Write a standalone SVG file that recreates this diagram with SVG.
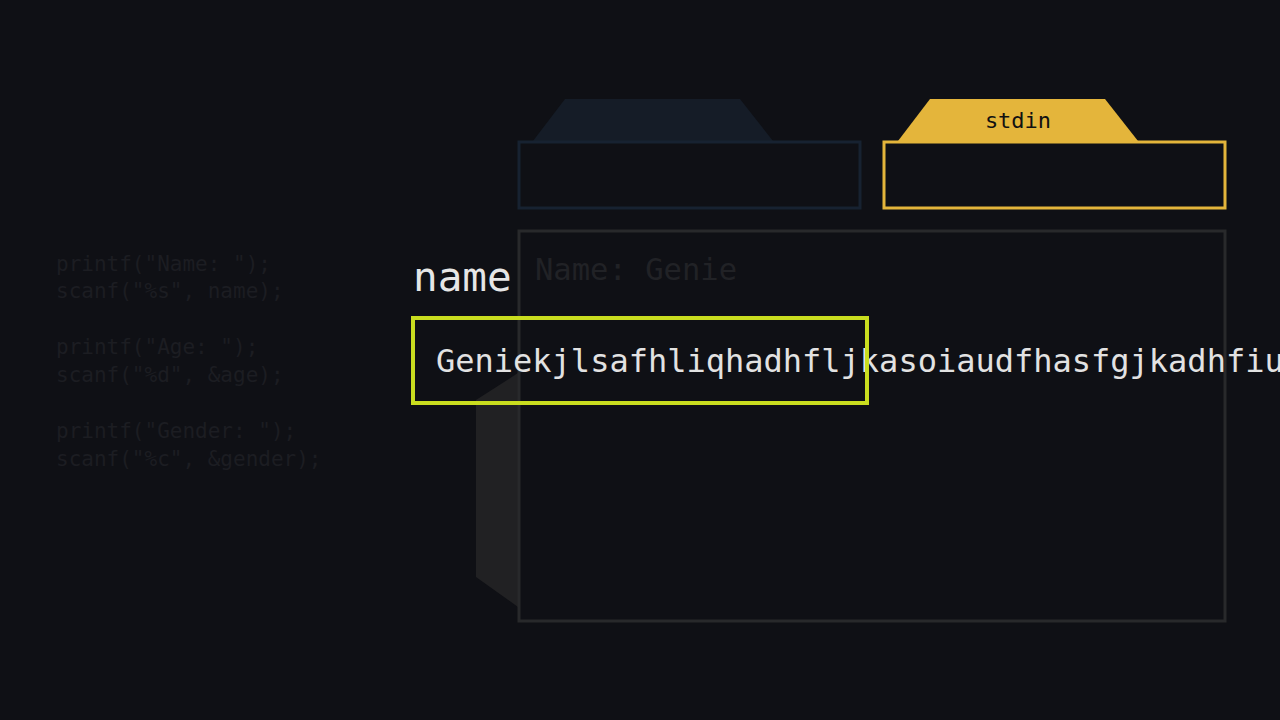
<svg xmlns="http://www.w3.org/2000/svg" width="1280" height="720" viewBox="0 0 1280 720">
<style>
.mono{font-family:"DejaVu Sans Mono","Liberation Mono",monospace}
.code{font-size:21px;fill:#1c1d22}
</style>
<rect width="1280" height="720" fill="#0f1015"/>
<g id="code">
<text class="mono code" x="56" y="271">printf("Name: ");</text>
<text class="mono code" x="56" y="298">scanf("%s", name);</text>
<text class="mono code" x="56" y="354">printf("Age: ");</text>
<text class="mono code" x="56" y="382">scanf("%d", &amp;age);</text>
<text class="mono code" x="56" y="438">printf("Gender: ");</text>
<text class="mono code" x="56" y="466">scanf("%c", &amp;gender);</text>
</g>
<g id="side-shape">
<polygon points="518,373 476,400 476,577 518,607" fill="#212123"/>
</g>
<g id="panel">
<rect x="519" y="231" width="706" height="390" fill="none" stroke="#28292b" stroke-width="3"/>
<text class="mono" x="535" y="280" font-size="30.5" fill="#212226">Name: Genie</text>
</g>
<g id="left-tab">
<polygon points="565,99 740,99 773,141 533,141" fill="#151c27"/>
<rect x="519" y="142" width="341" height="66" fill="#0f1015" stroke="#172231" stroke-width="3"/>
</g>
<g id="stdin-tab">
<polygon points="930,99 1105,99 1138,141 898,141" fill="#e4b53b"/>
<rect x="884" y="142" width="341" height="66" fill="#0f1015" stroke="#e4b53b" stroke-width="3"/>
<text class="mono" x="1018" y="128" font-size="22" fill="#111111" text-anchor="middle">stdin</text>
</g>
<g id="name-var">
<text class="mono" x="413" y="291" font-size="41" fill="#e6e6e6">name</text>
</g>
<g id="input">
<text class="mono" x="436" y="372" font-size="32" fill="#e2e2e2">Geniekjlsafhliqhadhfljkasoiaudfhasfgjkadhfiu</text>
<rect x="413" y="318" width="454" height="85" fill="none" stroke="#c9dd1f" stroke-width="4"/>
</g>
</svg>
